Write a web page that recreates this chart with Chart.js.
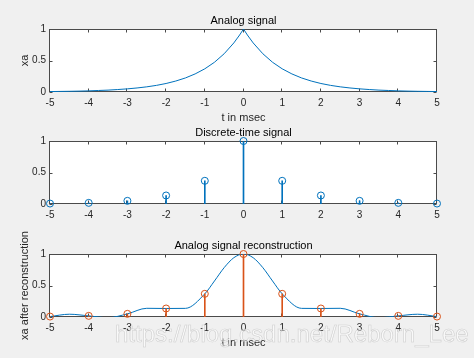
<!DOCTYPE html>
<html>
<head>
<meta charset="utf-8">
<script src="https://cdn.jsdelivr.net/npm/chart.js@4.4.0/dist/chart.umd.min.js"></script>
<style>
  html, body { margin: 0; padding: 0; background: #f0f0f0; }
  #wrap { position: relative; width: 474px; height: 358px; overflow: hidden; }
  #wrap canvas { position: absolute; left: 0; top: 0; }
  #mark {
    position: absolute; left: 115px; top: 322px;
    font: 24px 'Liberation Sans', Arial, sans-serif; line-height: 24px;
    color: rgba(255, 255, 255, 0.6);
    -webkit-text-stroke: 0.6px rgba(160, 160, 160, 0.45);
    white-space: nowrap;
  }
</style>
</head>
<body>
<div id="wrap">
  <canvas id="c1" width="474" height="358"></canvas>
  <canvas id="c2" width="474" height="358"></canvas>
  <canvas id="c3" width="474" height="358"></canvas>
  <div id="mark">https://blog.csdn.net/Reborn_Lee</div>
</div>
<script>
// アナログ信号 (上段)
const tAnalog = [-5, -4.75, -4.5, -4.25, -4, -3.75, -3.5, -3.25, -3, -2.75, -2.5, -2.25, -2, -1.75, -1.5, -1.25, -1, -0.75, -0.5, -0.25, -0.1, 0,
                 0.1, 0.25, 0.5, 0.75, 1, 1.25, 1.5, 1.75, 2, 2.25, 2.5, 2.75, 3, 3.25, 3.5, 3.75, 4, 4.25, 4.5, 4.75, 5];
const xaAnalog = [0.007, 0.009, 0.011, 0.014, 0.018, 0.024, 0.030, 0.039, 0.050, 0.064, 0.082, 0.105, 0.135, 0.174, 0.223, 0.287, 0.368, 0.472, 0.607, 0.779, 0.905, 1,
                  0.905, 0.779, 0.607, 0.472, 0.368, 0.287, 0.223, 0.174, 0.135, 0.105, 0.082, 0.064, 0.050, 0.039, 0.030, 0.024, 0.018, 0.014, 0.011, 0.009, 0.007];

// 離散時間信号 (中段)
const nSamples = [-5, -4, -3, -2, -1, 0, 1, 2, 3, 4, 5];
const xSamples = [0.007, 0.018, 0.050, 0.135, 0.368, 1, 0.368, 0.135, 0.050, 0.018, 0.007];

// 再構成信号 (下段)
const tRecon = [-5, -4.5, -4, -3.5, -3, -2.5, -2, -1.5, -1, -0.75, -0.5, -0.25, 0, 0.25, 0.5, 0.75, 1, 1.5, 2, 2.5, 3, 3.5, 4, 4.5, 5];
const xaRecon = [0.007, 0.044, 0.018, -0.011, 0.050, 0.138, 0.135, 0.137, 0.368, 0.572, 0.783, 0.941, 1, 0.941, 0.783, 0.572, 0.368, 0.137, 0.135, 0.138, 0.050, -0.011, 0.018, 0.044, 0.007];

const xTicks = [-5, -4, -3, -2, -1, 0, 1, 2, 3, 4, 5];
const yTicks = [0, 0.5, 1];

const BLUE = '#0072BD';
const ORANGE = '#D95319';
const AXIS = '#262626';
const FONT = "'Liberation Sans', Arial, sans-serif";

Chart.defaults.font.family = FONT;
Chart.defaults.animation = false;

function pts(xs, ys) {
  return xs.map((x, i) => ({ x: x, y: ys[i] }));
}

// MATLAB風の枠・内向き目盛り・タイトル・軸ラベル
const matlabAxes = {
  id: 'matlabAxes',
  beforeDraw(chart) {
    const { ctx, chartArea: a } = chart;
    ctx.save();
    ctx.fillStyle = '#ffffff';
    ctx.fillRect(a.left, a.top, a.right - a.left, a.bottom - a.top);
    ctx.restore();
  },
  beforeDatasetsDraw(chart) {
    const { ctx, chartArea: a, scales } = chart;
    const L = a.left - 0.5, R = a.right - 0.5, T = a.top + 0.5, B = a.bottom - 0.5;
    ctx.save();
    ctx.strokeStyle = '#4a4a4a';
    ctx.lineWidth = 1;
    ctx.strokeRect(L, T, R - L, B - T);
    ctx.beginPath();
    scales.x.ticks.forEach(t => {
      const px = Math.round(scales.x.getPixelForValue(t.value)) - 0.5;
      ctx.moveTo(px, B); ctx.lineTo(px, B - 3);
      ctx.moveTo(px, T); ctx.lineTo(px, T + 3);
    });
    scales.y.ticks.forEach(t => {
      const py = Math.round(scales.y.getPixelForValue(t.value)) + 0.5;
      ctx.moveTo(L, py); ctx.lineTo(L + 3, py);
      ctx.moveTo(R, py); ctx.lineTo(R - 3, py);
    });
    ctx.stroke();
    ctx.restore();
  },
  afterDraw(chart, args, opts) {
    const { ctx, chartArea: a } = chart;
    const cx = (a.left + a.right) / 2;
    ctx.save();
    ctx.fillStyle = '#000';
    ctx.font = '11px ' + FONT;
    ctx.textAlign = 'center';
    ctx.textBaseline = 'alphabetic';
    if (opts.title) ctx.fillText(opts.title, cx, a.top - 5.5);
    ctx.fillStyle = AXIS;
    if (opts.xlabel) ctx.fillText(opts.xlabel, cx, a.bottom + 29);
    if (opts.ylabel) {
      ctx.translate(24.5, (a.top + a.bottom) / 2);
      ctx.rotate(-Math.PI / 2);
      ctx.textBaseline = 'middle';
      ctx.fillText(opts.ylabel, 0, 0);
    }
    ctx.restore();
  }
};

function makeScales() {
  return {
    x: {
      type: 'linear', min: -5, max: 5, offset: false,
      afterBuildTicks(s) { s.ticks = xTicks.map(v => ({ value: v })); },
      ticks: { color: AXIS, padding: 5, font: { size: 10 }, autoSkip: false, maxRotation: 0,
               callback: v => String(v) },
      grid: { display: false, drawTicks: false },
      border: { display: false },
      afterFit(s) { s.height = 20; }
    },
    y: {
      type: 'linear', min: 0, max: 1,
      afterBuildTicks(s) { s.ticks = yTicks.map(v => ({ value: v })); },
      ticks: { color: AXIS, padding: 4, font: { size: 10 }, callback: v => String(v) },
      grid: { display: false, drawTicks: false },
      border: { display: false },
      afterFit(s) { s.width = 40; }
    }
  };
}

function makeOptions(top, bottom, labels) {
  return {
    responsive: false,
    animation: false,
    layout: { padding: { left: 10, right: 37, top: top, bottom: 358 - bottom - 20 } },
    scales: makeScales(),
    plugins: {
      legend: { display: false },
      tooltip: { enabled: false },
      matlabAxes: labels
    }
  };
}

// 上段: Analog signal
new Chart(document.getElementById('c1'), {
  type: 'line',
  data: {
    datasets: [{
      data: pts(tAnalog, xaAnalog),
      borderColor: BLUE, borderWidth: 1, pointRadius: 0, tension: 0
    }]
  },
  options: makeOptions(29, 92, { title: 'Analog signal', xlabel: 't in msec', ylabel: 'xa' }),
  plugins: [matlabAxes]
});

// 中段: Discrete-time signal
new Chart(document.getElementById('c2'), {
  type: 'scatter',
  data: {
    datasets: [{
      type: 'scatter',
      data: pts(nSamples, xSamples),
      borderColor: BLUE, borderWidth: 1, backgroundColor: 'rgba(0,0,0,0)',
      pointRadius: 3.5, clip: false
    }, {
      type: 'bar',
      data: pts(nSamples, xSamples),
      backgroundColor: BLUE, barThickness: 1, borderWidth: 0, grouped: false
    }]
  },
  options: makeOptions(141, 204, { title: 'Discrete-time signal' }),
  plugins: [matlabAxes]
});

// 下段: Analog signal reconstruction
new Chart(document.getElementById('c3'), {
  type: 'scatter',
  data: {
    datasets: [{
      type: 'scatter',
      data: pts(nSamples, xSamples),
      borderColor: ORANGE, borderWidth: 1, backgroundColor: 'rgba(0,0,0,0)',
      pointRadius: 3.5, clip: false
    }, {
      type: 'bar',
      data: pts(nSamples, xSamples),
      backgroundColor: ORANGE, barThickness: 1, borderWidth: 0, grouped: false
    }, {
      type: 'line',
      data: pts(tRecon, xaRecon),
      borderColor: BLUE, borderWidth: 1, pointRadius: 0,
      cubicInterpolationMode: 'monotone'
    }]
  },
  options: makeOptions(254, 317, { title: 'Analog signal reconstruction', xlabel: 't in msec', ylabel: 'xa after reconstruction' }),
  plugins: [matlabAxes]
});
</script>
</body>
</html>
